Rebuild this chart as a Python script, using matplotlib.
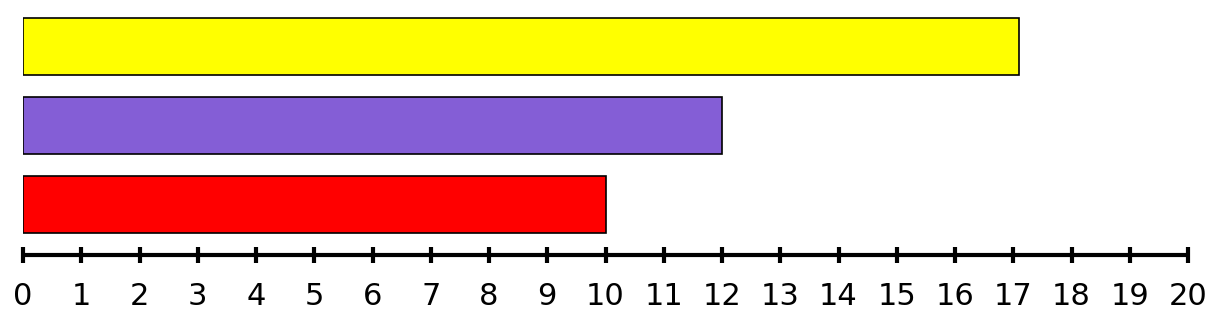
import matplotlib
matplotlib.use("Agg")
import matplotlib.pyplot as plt

categories = ["Red", "Purple", "Yellow"]
values = [10, 12, 17.1]
colors = ["#FF0000", "#845ED6", "#FFFF00"]
tick_values = list(range(0, 21))

fig = plt.figure(figsize=(12.24, 3.33), dpi=100)
ax = fig.add_axes([23/1224, (333-255)/333, (1188-23)/1224, 255/333])
ypos = list(range(len(categories)))
ax.barh(ypos, values, height=0.72, color=colors, edgecolor="black", linewidth=1.2)
ax.set_xlim(0, 20)
ax.set_ylim(-0.639, 2.589)
ax.set_xticks(tick_values)
ax.set_xticklabels([str(t) for t in tick_values], fontsize=22, family="DejaVu Sans")
ax.set_yticks([])
for s in ["top", "right", "left"]:
    ax.spines[s].set_visible(False)
ax.spines["bottom"].set_linewidth(3)
ax.spines["bottom"].set_capstyle("butt")
ax.tick_params(axis="x", direction="inout", length=11, width=3, pad=14)
ax.patch.set_alpha(0)
for t in ax.get_xticklabels():
    t.set_clip_on(False)
fig.savefig("out.png", dpi=100)
